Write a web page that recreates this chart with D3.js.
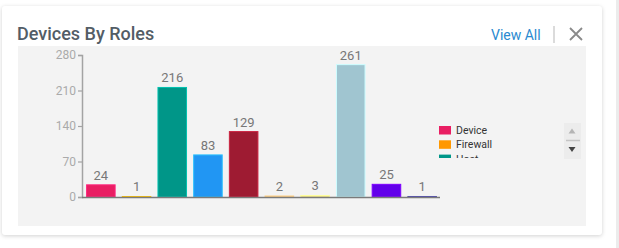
<!DOCTYPE html>
<html>
<head>
<meta charset="utf-8">
<script src="https://cdn.jsdelivr.net/npm/d3@7"></script>
<style>
  html, body { margin: 0; padding: 0; background: #fff; font-family: Roboto, "Noto Sans", sans-serif; }
  #wrap { position: relative; width: 619px; height: 248px; overflow: hidden; }
  .card { position: absolute; left: 2px; top: 6px; width: 600px; height: 229px; background: #fff;
          border-radius: 3px; box-shadow: 0 1px 4px rgba(0,0,0,0.18); }
  .edge { position: absolute; left: 616px; top: 0; width: 3px; height: 248px; background: #ececec; }
  svg { position: absolute; left: 0; top: 0; }
</style>
</head>
<body>
<div id="wrap">
  <div class="card"></div>
  <div class="edge"></div>
</div>
<script>
// chart values
const categories = ['Device', 'Firewall', 'Host', 'Phone', 'Router', 'Server', 'Storage', 'Switch', 'Virtual', 'Wireless'];
const counts = [24, 1, 216, 83, 129, 2, 3, 261, 25, 1];
const colors = ['#e91e63', '#ff9800', '#009688', '#2196f3', '#9e1b32', '#f6a36a', '#e9d27a', '#a0c5d0', '#6200ea', '#3e3c8c'];
const yTicks = [0, 70, 140, 210, 280];

const svg = d3.select('#wrap').append('svg')
  .attr('width', 619)
  .attr('height', 248);

// header
svg.append('text')
  .attr('x', 17).attr('y', 40)
  .attr('font-size', 18).attr('font-weight', 500)
  .attr('fill', '#535d66')
  .text('Devices By Roles');

svg.append('text')
  .attr('x', 491).attr('y', 40)
  .attr('font-size', 14)
  .attr('fill', '#2a8ad0')
  .text('View All');

svg.append('line')
  .attr('x1', 554).attr('x2', 554).attr('y1', 26).attr('y2', 43)
  .attr('stroke', '#cfcfcf').attr('stroke-width', 1.5);

svg.append('path')
  .attr('d', 'M570,28L582,40M582,28L570,40')
  .attr('stroke', '#8a8a8a').attr('stroke-width', 1.8).attr('fill', 'none');

// plot background
svg.append('rect')
  .attr('x', 18).attr('y', 46).attr('width', 568).attr('height', 180)
  .attr('fill', '#f3f3f3');

const x = d3.scaleBand()
  .domain(categories)
  .range([83, 440])
  .paddingInner(0.2)
  .paddingOuter(0.1);

const y = d3.scaleLinear()
  .domain([0, 280])
  .range([197, 55]);

// bars
svg.append('g').selectAll('rect')
  .data(categories)
  .enter().append('rect')
  .attr('x', d => x(d))
  .attr('y', (d, i) => y(counts[i]))
  .attr('width', x.bandwidth())
  .attr('height', (d, i) => y(0) - y(counts[i]))
  .attr('fill', (d, i) => colors[i])
  .attr('stroke', (d, i) => d3.color(colors[i]).brighter(0.7))
  .attr('stroke-width', 1);

// value labels
svg.append('g').selectAll('text')
  .data(categories)
  .enter().append('text')
  .attr('x', d => x(d) + x.bandwidth() / 2)
  .attr('y', (d, i) => y(counts[i]) - 5)
  .attr('text-anchor', 'middle')
  .attr('font-size', 13)
  .attr('fill', '#777')
  .text((d, i) => counts[i]);

// y axis
const yAxis = svg.append('g')
  .attr('transform', 'translate(82,0)')
  .call(d3.axisLeft(y).tickValues(yTicks).tickSize(4).tickPadding(2));
yAxis.select('.domain').attr('stroke', '#a3a3a3').attr('stroke-width', 1.5);
yAxis.selectAll('.tick line').attr('stroke', '#a3a3a3').attr('stroke-width', 1.2);
yAxis.selectAll('.tick text')
  .attr('fill', '#aaa')
  .attr('font-size', 12)
  .attr('font-family', 'Roboto, sans-serif');

// x axis
const xAxis = svg.append('g')
  .attr('transform', 'translate(0,197)')
  .call(d3.axisBottom(x).tickSize(0).tickSizeOuter(0).tickFormat(''));
xAxis.select('.domain').attr('stroke', '#7a7a7a').attr('stroke-width', 1.5)
  .attr('d', 'M82,0.5H440');

// legend (paged, first rows visible; clipped at bottom)
const rowStep = 14.3;
const clipTop = -6;
const clipBottom = 32;
const visibleRows = Math.ceil(clipBottom / rowStep);

svg.append('clipPath').attr('id', 'legclip')
  .append('rect').attr('x', -4).attr('y', clipTop).attr('width', 110).attr('height', clipBottom - clipTop);

const legend = svg.append('g')
  .attr('transform', 'translate(439,126)')
  .attr('clip-path', 'url(#legclip)');

const items = legend.selectAll('g')
  .data(categories.slice(0, visibleRows))
  .enter().append('g')
  .attr('transform', (d, i) => `translate(0,${i * rowStep})`);

items.append('rect')
  .attr('width', 12).attr('height', 8.5)
  .attr('fill', (d, i) => colors[i]);

items.append('text')
  .attr('x', 17).attr('y', 8)
  .attr('font-size', 10.5)
  .attr('fill', '#333')
  .text(d => d);

// legend pager
const nav = svg.append('g');
nav.append('rect')
  .attr('x', 564).attr('y', 123).attr('width', 17).attr('height', 36)
  .attr('fill', '#ececec');
nav.append('path')
  .attr('d', 'M568.5,133.5L575.5,133.5L572,128.5Z')
  .attr('fill', '#b5b5b5');
nav.append('line')
  .attr('x1', 566).attr('x2', 580).attr('y1', 140.5).attr('y2', 140.5)
  .attr('stroke', '#c4c4c4').attr('stroke-width', 1.5);
nav.append('path')
  .attr('d', 'M568.5,147L575.5,147L572,152Z')
  .attr('fill', '#444');
</script>
</body>
</html>
